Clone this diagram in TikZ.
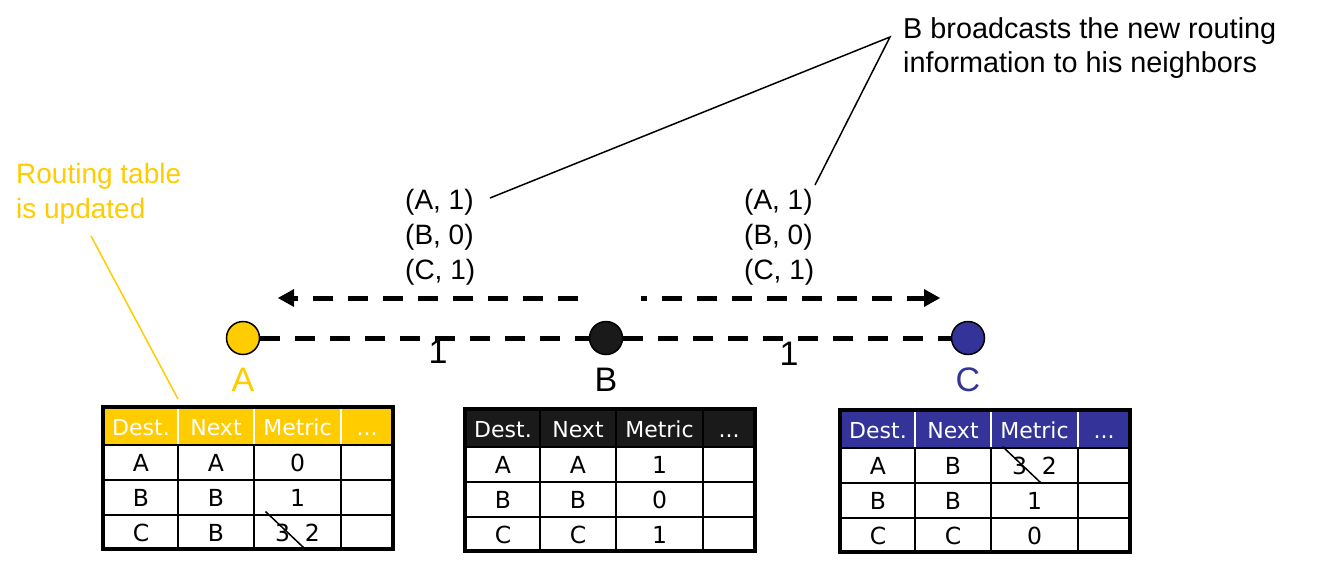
\documentclass[tikz,border=0pt]{standalone}
\usepackage{fontspec}
\setmainfont{Liberation Sans}
\newfontfamily\tablefont{DejaVu Sans}
\usetikzlibrary{arrows.meta,calc}
\definecolor{nodeyellow}{HTML}{FFCC00}
\definecolor{nodeblack}{HTML}{1A1A1A}
\definecolor{nodeblue}{HTML}{333399}

\begin{document}
\begin{tikzpicture}[x=1pt, y=-1pt,
    router/.style={circle, draw=black, line width=1.5pt, minimum size=33pt, inner sep=0pt},
    link/.style={line width=5pt, dash pattern=on 20pt off 15pt},
    bcast/.style={link, -{Triangle[length=16pt, width=18pt, line width=0pt]}},
    msg/.style={align=left, inner sep=0pt, font=\fontsize{28}{35}\selectfont},
    big/.style={inner sep=0pt, font=\fontsize{34}{40}\selectfont},
    cell/.style={inner sep=0pt, text height=17pt, text depth=0pt, font=\tablefont\fontsize{23.5}{27}\selectfont},
    head/.style={cell, text height=16pt, text=white, font=\tablefont\fontsize{22}{26}\selectfont}]
    \useasboundingbox (0,0) rectangle (1341,563);
    % Routers A - B - C
    \node[router, fill=nodeyellow] (A) at (243,338) {};
    \node[router, fill=nodeblack] (B) at (606,338) {};
    \node[router, fill=nodeblue] (C) at (968,338) {};
    \draw[link] (A) -- (B);
    \draw[link] (B) -- (C);
    \node[big] (wAB) at (438,352) {1};
    \node[big] (wBC) at (789,354) {1};
    \node[big, text=nodeyellow] (labA) at (243,380) {A};
    \node[big] (labB) at (606,380) {B};
    \node[big, text=nodeblue] (labC) at (968,380) {C};
    % Broadcast of B
    \coordinate (sendL) at (578,298); \coordinate (tipL) at (278,298);
    \coordinate (sendR) at (641,298); \coordinate (tipR) at (940,298);
    \draw[bcast] (sendL) -- (tipL);
    \draw[bcast, dash phase=14pt] (sendR) -- (tipR);
    \node[msg, anchor=west] (msgL) at (405,237) {(A, 1)\\(B, 0)\\(C, 1)};
    \node[msg, anchor=west] (msgR) at (744,237) {(A, 1)\\(B, 0)\\(C, 1)};
    \node[msg, anchor=west, font=\fontsize{28.8}{34}\selectfont] (note) at (903,48) {B broadcasts the new routing\\information to his neighbors};
    \coordinate (noteTip) at (890,37);
    \coordinate (msgLtip) at (490,198); \coordinate (msgRtip) at (815,185);
    \draw[line width=1.5pt] (msgLtip) -- (noteTip) -- (msgRtip);
    \node[msg, anchor=west, text=nodeyellow] (upd) at (16,194) {Routing table\\is updated};
    \coordinate (updTip) at (91,236); \coordinate (tabTip) at (178,399);
    \draw[nodeyellow, line width=1.5pt] (updTip) -- (tabTip);
    % Routing tables
    \foreach \t/\tx/\ty/\hc/\sc/\rows in {tA/101/405/nodeyellow/white/{A/A/0,B/B/1,C/B/3\ \ 2},
        tB/463/407/nodeblack/black/{A/A/1,B/B/0,C/C/1},
        tC/838/408/nodeblue/white/{A/B/3\ \ 2,B/B/1,C/C/0}} {
      \begin{scope}[shift={(\tx,\ty)}]
        \fill[\hc] (2,2) rectangle (292,40);
        \draw[\sc, line width=2pt] (77,2) -- (77,40) (153,2) -- (153,40) (240,2) -- (240,40);
        \draw[line width=2pt] (2,40) -- (292,40) (2,75) -- (292,75) (2,110) -- (292,110);
        \draw[line width=2pt] (77,40) -- (77,144) (153,40) -- (153,144) (240,40) -- (240,144);
        \draw[line width=4pt] (2,2) rectangle (292,144);
        \node[head] (\t-h1) at (40,22) {Dest.};
        \node[head] (\t-h2) at (115,22) {Next};
        \node[head] (\t-h3) at (196.5,22) {Metric};
        \node[head] (\t-h4) at (266,22) {...};
        \foreach \d/\n/\m [count=\r] in \rows {
          \node[cell] (\t-\r-1) at (40,22.5+35*\r) {\d};
          \node[cell] (\t-\r-2) at (115,22.5+35*\r) {\n};
          \node[cell] (\t-\r-3) at (196.5,22.5+35*\r) {\m};
        }
      \end{scope}
    }
    % Old metrics crossed out
    \draw[line width=1.5pt] ($(tA-3-3.center)+(-32,-21)$) -- ($(tA-3-3.center)+(6,15)$);
    \draw[line width=1.5pt] ($(tC-1-3.center)+(-32,-19)$) -- ($(tC-1-3.center)+(6,17)$);
\end{tikzpicture}
\end{document}
